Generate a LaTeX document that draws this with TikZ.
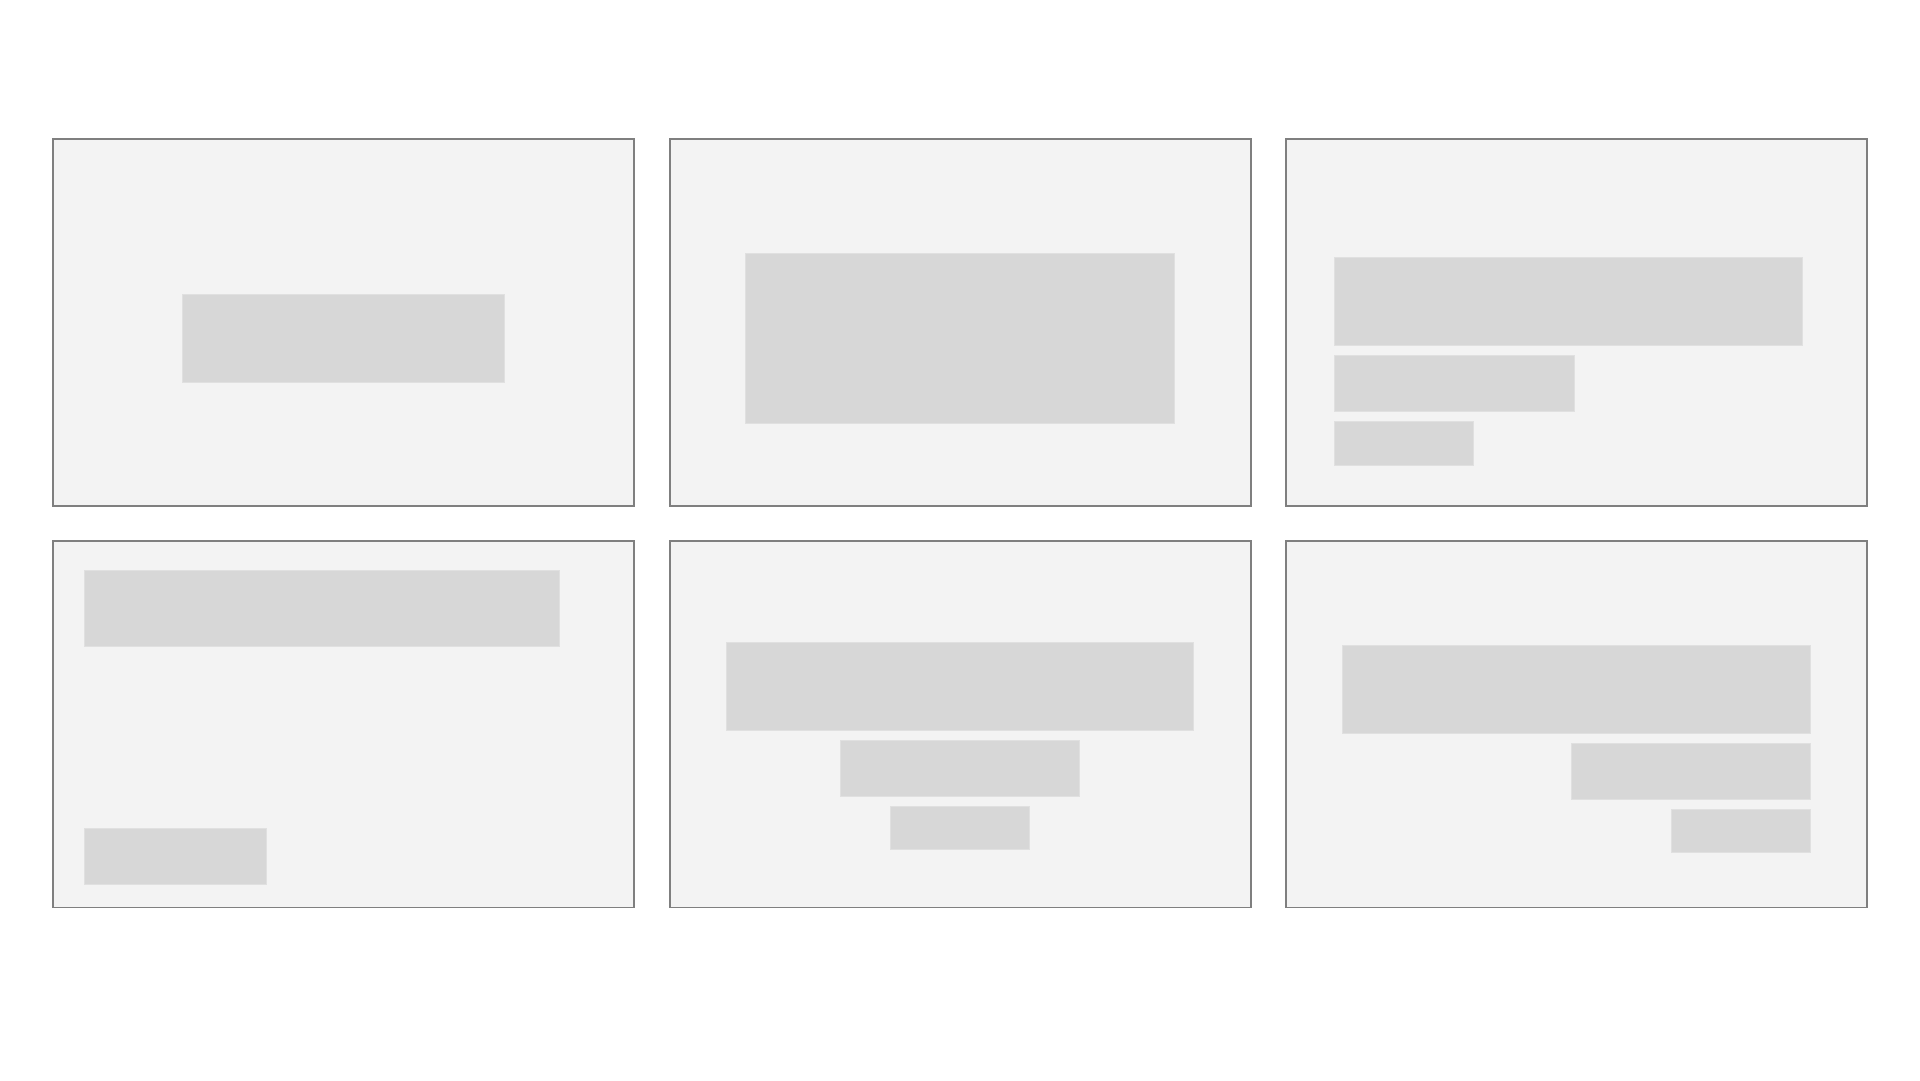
\documentclass[tikz,border=0pt]{standalone}
\definecolor{panelfill}{HTML}{F3F3F3}
\definecolor{panelline}{HTML}{7F7F7F}
\definecolor{blockfill}{HTML}{D7D7D7}
\definecolor{blockline}{HTML}{E0E0E0}
\tikzset{
  panel/.style={fill=panelfill, draw=panelline, line width=1.2pt},
  block/.style={fill=blockfill, draw=blockline, line width=0.8pt}
}
\begin{document}
\begin{tikzpicture}[x=1pt,y=-1pt]
\useasboundingbox (0,0) rectangle (1920,1080);
\fill[white] (0,0) rectangle (1920,1080);
% panels row 1
\draw[panel] (53,139) rectangle (634,506);
\draw[panel] (670,139) rectangle (1251,506);
\draw[panel] (1286,139) rectangle (1867,506);
% panels row 2
\draw[panel] (53,541) rectangle (634,907.5);
\draw[panel] (670,541) rectangle (1251,907.5);
\draw[panel] (1286,541) rectangle (1867,907.5);
% panel 1
\draw[block] (182,294) rectangle (504.5,382.5);
% panel 2
\draw[block] (745.7,253.3) rectangle (1174.3,423);
% panel 3
\draw[block] (1334,257.7) rectangle (1802,345.7);
\draw[block] (1334,355.7) rectangle (1574,411.7);
\draw[block] (1334,421.7) rectangle (1473,465);
% panel 4
\draw[block] (84.5,570.7) rectangle (559,646.7);
\draw[block] (84.5,828) rectangle (266,884.7);
% panel 5
\draw[block] (726,642) rectangle (1193.7,730);
\draw[block] (840,740) rectangle (1079.7,796);
\draw[block] (890.7,806) rectangle (1029.3,849.3);
% panel 6
\draw[block] (1342.7,645) rectangle (1810,733.3);
\draw[block] (1571,743) rectangle (1810,799.3);
\draw[block] (1671.6,809) rectangle (1810,852.3);
\end{tikzpicture}
\end{document}
